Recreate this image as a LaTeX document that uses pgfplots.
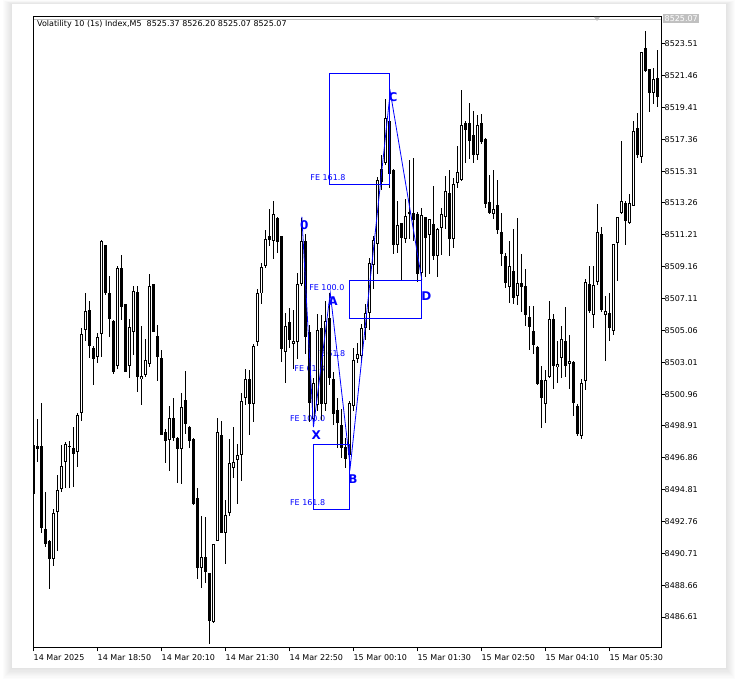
\documentclass[border=0pt]{standalone}
\usepackage{pgfplots}
\pgfplotsset{compat=1.18}
\usepackage{pgfplotstable}
\usepackage{fontspec}
\setmainfont{DejaVu Sans}
\definecolor{fe}{RGB}{0,0,255}
\definecolor{bidgray}{RGB}{192,192,192}
\tikzset{felabel/.style={font=\fontsize{8bp}{9bp}\selectfont, text=fe, inner sep=0pt, anchor=west},
 ptlab/.style={font=\fontsize{12bp}{12bp}\selectfont\bfseries, text=fe, inner sep=0pt}}

\pgfplotstableread{
i o h l c
0 8497.81 8498.01 8494.47 8494.66
1 8497.68 8499.36 8496.59 8497.49
2 8497.68 8500.45 8492.09 8492.41
3 8492.41 8494.66 8491.13 8491.45
4 8491.51 8491.70 8488.55 8490.35
5 8490.35 8493.64 8489.97 8493.31
6 8493.51 8495.88 8491.00 8494.92
7 8494.98 8497.81 8494.79 8496.46
8 8496.59 8498.01 8495.05 8497.75
9 8497.68 8498.01 8494.98 8497.62
10 8497.62 8498.91 8495.05 8497.23
11 8497.23 8499.68 8496.20 8499.62
12 8499.81 8505.28 8499.29 8504.90
13 8505.22 8507.53 8504.45 8506.44
14 8506.51 8506.96 8503.29 8504.19
15 8504.06 8504.06 8501.55 8503.35
16 8503.42 8504.96 8503.03 8504.70
17 8504.90 8510.88 8503.35 8510.88
18 8510.62 8510.62 8507.47 8507.53
19 8507.53 8508.62 8504.70 8505.86
20 8505.80 8505.80 8502.32 8502.51
21 8502.77 8509.20 8502.58 8509.07
22 8509.14 8510.04 8505.86 8506.63
23 8506.96 8506.96 8502.58 8502.58
24 8502.83 8505.80 8502.00 8505.35
25 8505.02 8507.98 8503.54 8507.66
26 8507.53 8507.98 8501.16 8502.06
27 8502.00 8505.41 8500.32 8502.19
28 8502.26 8504.51 8502.06 8503.22
29 8502.90 8508.75 8502.71 8507.92
30 8508.11 8508.11 8505.02 8505.02
31 8504.70 8505.41 8501.80 8503.35
32 8503.42 8503.80 8498.46 8498.46
33 8498.59 8498.72 8496.53 8498.01
34 8498.01 8500.19 8496.01 8499.42
35 8499.62 8500.71 8497.94 8498.33
36 8498.20 8498.20 8495.24 8497.49
37 8497.62 8501.10 8495.24 8500.32
38 8500.58 8502.51 8498.46 8499.03
39 8498.97 8498.97 8497.55 8498.07
40 8498.14 8498.14 8493.83 8493.96
41 8494.34 8494.92 8489.06 8489.84
42 8489.84 8493.19 8488.55 8490.55
43 8490.48 8493.12 8488.87 8489.51
44 8489.45 8489.45 8485.01 8486.36
45 8486.36 8491.38 8486.29 8491.38
46 8491.58 8499.42 8491.58 8498.59
47 8498.46 8499.29 8492.09 8492.15
48 8492.15 8494.27 8490.16 8493.25
49 8493.31 8498.14 8493.19 8496.53
50 8496.33 8498.84 8495.50 8496.72
51 8496.78 8497.75 8493.89 8497.11
52 8497.17 8501.22 8495.50 8500.64
53 8500.77 8502.71 8500.39 8502.00
54 8502.00 8502.51 8498.33 8500.39
55 8500.39 8504.32 8499.29 8504.12
56 8504.32 8507.79 8504.12 8507.47
57 8507.47 8509.46 8506.83 8509.20
58 8509.40 8511.65 8509.20 8511.13
59 8511.26 8512.94 8510.55 8511.00
60 8510.81 8513.52 8509.78 8512.55
61 8512.42 8512.48 8510.10 8510.88
62 8511.26 8511.26 8503.16 8503.93
63 8503.74 8506.18 8501.67 8505.41
64 8505.54 8506.57 8503.99 8504.38
65 8504.25 8506.51 8502.71 8504.45
66 8504.38 8508.82 8503.29 8508.11
67 8508.11 8512.36 8507.98 8510.88
68 8510.88 8511.33 8503.61 8504.70
69 8504.96 8505.54 8499.29 8500.39
70 8499.42 8502.00 8498.84 8501.74
71 8500.26 8506.18 8499.94 8505.09
72 8505.28 8506.18 8499.42 8500.39
73 8500.39 8507.02 8499.94 8505.73
74 8505.86 8507.47 8501.55 8502.00
75 8502.06 8502.51 8499.10 8499.81
76 8499.94 8500.90 8497.68 8499.10
77 8499.10 8500.07 8496.91 8497.62
78 8497.68 8498.20 8496.27 8496.91
79 8497.04 8500.51 8496.27 8500.39
80 8500.39 8503.99 8499.94 8503.35
81 8503.29 8504.32 8503.03 8503.61
82 8503.48 8505.54 8503.16 8505.28
83 8505.28 8506.76 8504.45 8506.25
84 8506.25 8509.72 8505.09 8509.46
85 8509.46 8511.20 8507.79 8511.07
86 8510.75 8515.06 8508.82 8514.87
87 8515.58 8516.36 8514.09 8514.74
88 8515.90 8519.95 8515.70 8518.79
89 8518.60 8520.40 8514.29 8515.19
90 8515.51 8515.51 8510.04 8510.68
91 8510.68 8513.39 8510.04 8511.97
92 8512.03 8512.03 8508.30 8511.07
93 8510.94 8513.64 8510.75 8512.42
94 8512.74 8516.16 8511.07 8512.61
95 8512.74 8516.22 8510.88 8512.29
96 8512.61 8512.81 8508.30 8508.75
97 8508.75 8513.00 8508.30 8512.48
98 8512.48 8512.48 8508.62 8511.13
99 8511.20 8512.23 8508.75 8512.23
100 8511.97 8514.36 8509.59 8509.91
101 8509.91 8511.71 8508.56 8511.65
102 8511.65 8513.00 8509.97 8512.61
103 8512.36 8515.12 8511.71 8514.03
104 8514.03 8515.44 8509.91 8511.07
105 8511.00 8514.87 8510.36 8514.54
106 8514.54 8517.12 8514.42 8515.19
107 8514.87 8520.66 8514.80 8518.41
108 8518.54 8518.54 8515.83 8518.08
109 8518.41 8519.76 8516.15 8517.25
110 8517.77 8519.25 8515.90 8516.48
111 8516.48 8519.05 8516.15 8518.41
112 8518.47 8519.12 8517.19 8517.25
113 8517.44 8517.44 8512.94 8513.26
114 8513.39 8515.12 8512.61 8512.68
115 8512.61 8515.44 8512.29 8512.94
116 8513.19 8514.80 8511.33 8511.58
117 8511.46 8512.68 8509.27 8510.04
118 8510.04 8510.10 8507.85 8508.30
119 8507.79 8510.81 8506.83 8509.14
120 8509.01 8511.65 8506.83 8507.27
121 8507.27 8512.48 8506.83 8508.11
122 8508.17 8510.10 8506.37 8507.92
123 8507.92 8509.20 8505.54 8506.05
124 8505.99 8506.70 8503.87 8505.35
125 8505.15 8506.70 8503.61 8504.25
126 8504.06 8504.12 8501.67 8501.67
127 8501.93 8502.96 8498.97 8500.77
128 8500.39 8502.58 8499.16 8501.93
129 8502.13 8507.02 8502.06 8505.86
130 8505.99 8506.12 8501.35 8502.96
131 8502.71 8504.32 8501.61 8502.96
132 8503.29 8505.41 8502.06 8504.51
133 8504.51 8506.70 8502.19 8502.90
134 8502.90 8504.77 8501.29 8503.09
135 8503.09 8503.09 8499.55 8500.45
136 8500.32 8500.32 8498.27 8498.52
137 8498.39 8502.00 8498.14 8501.80
138 8501.80 8508.49 8501.35 8508.17
139 8508.11 8509.27 8506.25 8506.37
140 8506.05 8509.27 8505.28 8507.98
141 8508.24 8513.32 8508.11 8511.46
142 8511.26 8511.84 8506.37 8506.37
143 8506.18 8507.47 8503.29 8506.44
144 8506.31 8507.53 8504.45 8505.35
145 8505.15 8510.75 8504.90 8510.75
146 8510.68 8512.48 8508.37 8512.36
147 8512.68 8517.32 8512.61 8513.45
148 8513.45 8513.45 8510.62 8512.29
149 8512.03 8513.84 8511.91 8513.32
150 8513.19 8518.54 8513.13 8518.02
151 8518.02 8519.12 8516.28 8516.28
152 8516.22 8523.10 8516.03 8522.97
153 8523.23 8524.39 8521.75 8521.75
154 8521.94 8521.94 8519.12 8520.40
155 8520.40 8522.01 8519.69 8521.30
156 8521.37 8523.17 8519.50 8520.14
}\candles

\begin{document}
\begin{tikzpicture}[x=1bp,y=1bp]
\path[use as bounding box] (0,0) rectangle (737,684);
\foreach \k in {1,...,9} {\fill[black, opacity=0.011] (12-\k, 16-1.2*\k) rectangle (726+\k, 680+0.4*\k);}
\fill[white] (12,16) rectangle (726,680);
\begin{axis}[
 at={(33.3bp,36bp)}, anchor=south west,
 scale only axis, width=627.7bp, height=631.3bp,
 xmin=-0.05, xmax=156.9,
 ymin=8484.62, ymax=8525.25,
 axis on top,
 axis line style={black, line width=1bp},
 tick style={black, line width=1bp},
 tick align=outside, major tick length=3.5bp,
 xtick pos=bottom, ytick pos=right, yticklabel pos=right,
 xtick={0,16,32,48,64,80,96,112,128,144},
 xticklabels={14 Mar 2025,14 Mar 18:50,14 Mar 20:10,14 Mar 21:30,14 Mar 22:50,15 Mar 00:10,15 Mar 01:30,15 Mar 02:50,15 Mar 04:10,15 Mar 05:30},
 ytick={8486.61,8488.66,8490.71,8492.76,8494.81,8496.86,8498.91,8500.96,8503.01,8505.06,8507.11,8509.16,8511.21,8513.26,8515.31,8517.36,8519.41,8521.46,8523.51},
 yticklabels={8486.61,8488.66,8490.71,8492.76,8494.81,8496.86,8498.91,8500.96,8503.01,8505.06,8507.11,8509.16,8511.21,8513.26,8515.31,8517.36,8519.41,8521.46,8523.51},
 ticklabel style={font=\fontsize{8bp}{9bp}\selectfont, black, inner sep=0pt},
 xticklabel style={anchor=north west, yshift=-3bp},
 yticklabel style={anchor=west},
 unbounded coords=discard,
]
% bid line
\addplot[bidgray, line width=1bp, forget plot] coordinates {(-0.05,8525.07) (156.9,8525.07)};
% Fibonacci expansion labels (behind candles)
\node[felabel] at (axis cs:69.2,8514.87) {FE 161.8};
\node[felabel] at (axis cs:68.9,8507.79) {FE 100.0};
\node[felabel] at (axis cs:70.4,8503.54) {FE 61.8};
\node[felabel] at (axis cs:65.2,8502.58) {FE 61.8};
\node[felabel] at (axis cs:64.1,8499.36) {FE 100.0};
\node[felabel] at (axis cs:64.1,8493.96) {FE 161.8};
% wicks
\addplot[draw=none, mark=none, forget plot,
  error bars/.cd, y dir=both, y explicit, error mark=none,
  error bar style={draw=black, line width=1bp}]
  table[x=i, y expr={(\thisrow{h}+\thisrow{l})/2}, y error expr={(\thisrow{h}-\thisrow{l})/2}] {\candles};
% bodies
\addplot[draw=none, mark=none, forget plot,
  error bars/.cd, y dir=both, y explicit, error mark=none,
  error bar style={draw=black, line width=3bp}]
  table[x=i, y expr={(\thisrow{o}+\thisrow{c})/2}, y error expr={max(abs(\thisrow{c}-\thisrow{o})/2,0.035)}] {\candles};
% hollow interior of rising candles
\addplot[draw=none, mark=none, forget plot,
  error bars/.cd, y dir=both, y explicit, error mark=none,
  error bar style={draw=white, line width=1bp}]
  table[x=i, y expr={\thisrow{c}>\thisrow{o} ? (\thisrow{o}+\thisrow{c})/2 : nan}, y error expr={max(abs(\thisrow{c}-\thisrow{o})/2-0.064,0)}] {\candles};
% pattern
\addplot[fe, line width=0.8bp] coordinates {(67.1,8512.36) (70.0,8498.84) (74.2,8507.47) (79.2,8496.27) (89.2,8520.42) (97.1,8508.30)};
\addplot[fe, line width=0.8bp] coordinates {(74.0,8514.46) (89.0,8514.46) (89.0,8521.60) (74.0,8521.60) (74.0,8514.46)};
\addplot[fe, line width=0.8bp] coordinates {(79.0,8505.84) (97.0,8505.84) (97.0,8508.30) (79.0,8508.30) (79.0,8505.84)};
\addplot[fe, line width=0.8bp] coordinates {(70.0,8493.55) (79.0,8493.55) (79.0,8497.75) (70.0,8497.75) (70.0,8493.55)};
\node[ptlab] at (axis cs:67.7,8511.84) {0};
\node[ptlab] at (axis cs:74.9,8506.95) {A};
\node[ptlab] at (axis cs:70.7,8498.33) {X};
\node[ptlab] at (axis cs:79.9,8495.50) {B};
\node[ptlab] at (axis cs:89.9,8520.08) {C};
\node[ptlab] at (axis cs:98.2,8507.27) {D};
\end{axis}
\node[anchor=west, inner sep=0pt, font=\fontsize{8bp}{9bp}\selectfont] at (37,659.7) {Volatility 10 (1s) Index,M5\ \ 8525.37 8526.20 8525.07 8525.07};
\node[anchor=west, fill=bidgray, text=white, inner xsep=1.5bp, inner ysep=1bp, font=\fontsize{8bp}{9bp}\selectfont] at (663,665.5) {8525.07};
\fill[bidgray] (594,667) -- (600,667) -- (597,663) -- cycle;
\end{tikzpicture}
\end{document}
